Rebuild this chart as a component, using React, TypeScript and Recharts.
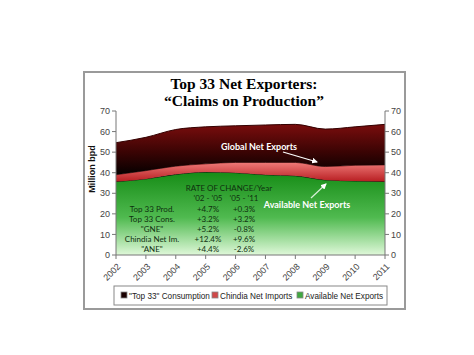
import React from 'react';
import { AreaChart, Area, XAxis, YAxis } from 'recharts';

const YEARS = ['2002', '2003', '2004', '2005', '2006', '2007', '2008', '2009', '2010', '2011'];
const AVAILABLE_NET_EXPORTS = [35.7, 37.0, 39.2, 40.3, 40.0, 39.0, 38.5, 36.5, 36.0, 35.7];
const CHINDIA_NET_IMPORTS = [3.3, 4.0, 4.0, 4.0, 5.0, 6.0, 6.5, 6.5, 7.6, 8.1];
const TOP33_CONSUMPTION = [15.6, 16.2, 17.8, 18.0, 17.8, 18.2, 18.5, 18.2, 18.7, 19.7];
const Y_TICKS = [0, 10, 20, 30, 40, 50, 60, 70];

const RATE_ROWS = ['Top 33 Prod.', 'Top 33 Cons.', '"GNE"', 'Chindia Net Im.', '"ANE"'];
const RATE_02_05 = ['+4.7%', '+3.2%', '+5.2%', '+12.4%', '+4.4%'];
const RATE_05_11 = ['+0.3%', '+3.2%', '-0.8%', '+9.6%', '-2.6%'];

const LEGEND = [
  { label: '"Top 33" Consumption', color: '#1a0000' },
  { label: 'Chindia Net Imports', color: '#d04848' },
  { label: 'Available Net Exports', color: '#40a840' },
];

const data = YEARS.map((year, i) => ({
  year,
  ane: AVAILABLE_NET_EXPORTS[i],
  chindia: CHINDIA_NET_IMPORTS[i],
  cons: TOP33_CONSUMPTION[i],
}));

const tickStyle = { fill: '#444', fontSize: 9, fontFamily: 'Liberation Sans, Arial, sans-serif' };

const XTick = (props: any) => {
  const { x, y, payload } = props;
  return (
    <text
      x={x + 3}
      y={y + 4}
      transform={`rotate(-45 ${x + 3} ${y + 4})`}
      textAnchor="end"
      dominantBaseline="central"
      style={tickStyle}
    >
      {payload.value}
    </text>
  );
};

export default function App() {
  const tableFont = { fontFamily: 'Lato, Open Sans, sans-serif', fontSize: 8 };
  const noteFont = { fontFamily: 'Lato, Open Sans, sans-serif', fontSize: 9, fontWeight: 700 };
  return (
    <div style={{ position: 'absolute', left: 0, top: 0, width: 474, height: 355, background: '#fff' }}>
      <div
        style={{
          position: 'absolute',
          left: 83,
          top: 71,
          width: 319,
          height: 235,
          border: '2px solid #9a9a9a',
        }}
      />
      <AreaChart
        width={474}
        height={355}
        data={data}
        margin={{ top: 111, bottom: 60, left: 86, right: 59 }}
        style={{ position: 'absolute', left: 0, top: 0 }}
      >
        <defs>
          <linearGradient id="gCons" x1="0" y1="0" x2="0" y2="1">
            <stop offset="0%" stopColor="#7a0d0d" />
            <stop offset="55%" stopColor="#3a0404" />
            <stop offset="100%" stopColor="#050000" />
          </linearGradient>
          <linearGradient id="gChin" x1="0" y1="0" x2="0" y2="1">
            <stop offset="0%" stopColor="#ee7a78" />
            <stop offset="100%" stopColor="#b81e22" />
          </linearGradient>
          <linearGradient id="gAne" x1="0" y1="0" x2="0" y2="1">
            <stop offset="0%" stopColor="#168c16" />
            <stop offset="55%" stopColor="#50ba50" />
            <stop offset="100%" stopColor="#dff8d9" />
          </linearGradient>
        </defs>
        <XAxis
          dataKey="year"
          interval={0}
          tick={<XTick />}
          tickSize={4}
          stroke="#777"
          height={40}
        />
        <YAxis
          yAxisId="left"
          domain={[0, 70]}
          ticks={Y_TICKS}
          width={30}
          tickSize={4}
          stroke="#777"
          tick={tickStyle}
        />
        <YAxis
          yAxisId="right"
          orientation="right"
          domain={[0, 70]}
          ticks={Y_TICKS}
          width={30}
          tickSize={4}
          stroke="#777"
          tick={tickStyle}
        />
        <Area yAxisId="left" type="monotone" dataKey="ane" stackId="s" stroke="#0c1a0c" strokeWidth={1} fill="url(#gAne)" fillOpacity={1} isAnimationActive={false} />
        <Area yAxisId="left" type="monotone" dataKey="chindia" stackId="s" stroke="#5a0a0a" strokeWidth={0.8} fill="url(#gChin)" fillOpacity={1} isAnimationActive={false} />
        <Area yAxisId="left" type="monotone" dataKey="cons" stackId="s" stroke="#300" strokeWidth={1} fill="url(#gCons)" fillOpacity={1} isAnimationActive={false} />
        <Area yAxisId="right" type="monotone" dataKey="ane" stroke="none" fill="none" legendType="none" isAnimationActive={false} />
      </AreaChart>
      <svg width={474} height={355} style={{ position: 'absolute', left: 0, top: 0, pointerEvents: 'none' }}>
        <defs>
          <marker id="ah" markerWidth="6" markerHeight="6" refX="5" refY="3" orient="auto" markerUnits="userSpaceOnUse">
            <path d="M0,0 L6,3 L0,6 z" fill="#fff" />
          </marker>
        </defs>
        <g style={{ fontFamily: 'Liberation Serif, Times New Roman, serif', fontWeight: 700, fontSize: 15.5 }} fill="#000">
          <text x={244} y={89} textAnchor="middle">Top 33 Net Exporters:</text>
          <text x={244} y={106} textAnchor="middle">“Claims on Production”</text>
        </g>
        <text
          x={95}
          y={169}
          transform="rotate(-90 95 169)"
          textAnchor="middle"
          style={{ fontFamily: 'Liberation Sans, Arial, sans-serif', fontSize: 9, fontWeight: 700 }}
          fill="#111"
        >
          Million bpd
        </text>
        <text x={259} y={150} textAnchor="middle" fill="#fff" style={noteFont}>
          Global Net Exports
        </text>
        <line x1={283} y1={152} x2={317} y2={162} stroke="#fff" strokeWidth={1.2} markerEnd="url(#ah)" />
        <text x={307} y={208} textAnchor="middle" fill="#fff" style={noteFont}>
          Available Net Exports
        </text>
        <line x1={311} y1={198} x2={326} y2={184} stroke="#d8f0d8" strokeWidth={1.2} markerEnd="url(#ah)" />
        <g style={tableFont} fill="#0f300f">
          <text x={229} y={191} textAnchor="middle">RATE OF CHANGE/Year</text>
          <text x={208} y={201} textAnchor="middle">'02 - '05</text>
          <text x={244} y={201} textAnchor="middle">'05 - '11</text>
          {RATE_ROWS.map((r, i) => (
            <g key={r}>
              <text x={152} y={212 + i * 10} textAnchor="middle">{r}</text>
              <text x={208} y={212 + i * 10} textAnchor="middle">{RATE_02_05[i]}</text>
              <text x={244} y={212 + i * 10} textAnchor="middle">{RATE_05_11[i]}</text>
            </g>
          ))}
        </g>
        <rect x={114} y={286} width={273} height={19} fill="#fff" stroke="#888" strokeWidth={1} />
        <g style={{ fontFamily: 'Liberation Sans, Arial, sans-serif', fontSize: 8.2 }} fill="#222">
          {LEGEND.map((l, i) => {
            const xs = [121, 212, 297];
            return (
              <g key={l.label}>
                <rect x={xs[i]} y={292} width={6} height={6} fill={l.color} stroke="#888" strokeWidth={0.8} />
                <text x={xs[i] + 8} y={298.5}>{l.label}</text>
              </g>
            );
          })}
        </g>
      </svg>
    </div>
  );
}
